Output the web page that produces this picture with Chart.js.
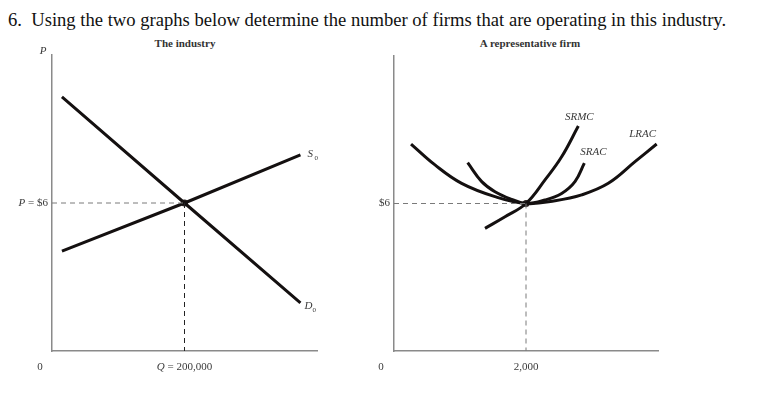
<!DOCTYPE html>
<html>
<head>
<meta charset="utf-8">
<script src="https://cdn.jsdelivr.net/npm/chart.js@4/dist/chart.umd.min.js"></script>
<style>
  html, body { margin: 0; padding: 0; background: #fff; }
  #wrap { position: relative; width: 773px; height: 393px; overflow: hidden; font-family: "Liberation Serif", serif; }
  #wrap canvas { position: absolute; left: 0; top: 0; }
  .t { position: absolute; white-space: nowrap; color: #111; }
  #title { left: 8px; top: 9px; font-size: 18.6px; }
  .sub { top: 37px; font-size: 11px; font-weight: bold; color: #333; transform: translateX(-50%); }
</style>
</head>
<body>
<div id="wrap">
  <div id="title" class="t">6.&nbsp;&nbsp;Using the two graphs below determine the number of firms that are operating in this industry.</div>
  <div class="t sub" style="left:185px">The industry</div>
  <div class="t sub" style="left:530px">A representative firm</div>
  <canvas id="c1" width="773" height="393"></canvas>
  <canvas id="c2" width="773" height="393"></canvas>
</div>
<script>
// ---------- Industry panel data ----------
const industryQ   = [15000, 200000, 375000];
const demandP     = [10.3, 6, 1.95];
const supplyP     = [4.05, 6, 7.95];
const industryEqQ = 200000;
const industryEqP = 6;
const industryTickLabels = { zero: "0", q: "Q = 200,000", p: "P = $6", axis: "P" };
const industryCurveLabels = ["S", "D"];

// ---------- Firm panel data ----------
const lracQ = [258, 621, 1025, 1530, 2000, 2439, 2843, 3247, 3652, 3980];
const lracC = [8.42, 7.57, 6.82, 6.28, 6.0, 6.11, 6.35, 6.82, 7.7, 8.42];
const sracQ = [1116, 1329, 1530, 1783, 2000, 2288, 2540, 2742, 2884];
const sracC = [7.66, 6.89, 6.48, 6.17, 6.0, 6.14, 6.41, 6.89, 7.64];
const srmcQ = [1379, 1682, 2000, 2288, 2540, 2793];
const srmcC = [4.99, 5.46, 6.0, 6.96, 7.9, 9.15];
const firmEqQ = 2000;
const firmEqP = 6;
const firmTickLabels = { zero: "0", q: "2,000", p: "$6" };
const firmCurveLabels = ["SRMC", "SRAC", "LRAC"];

const pts = (xs, ys) => xs.map((x, i) => ({ x, y: ys[i] }));

const LINE = "#141010";
const DASH = "#7a7a7a";
const AXIS = "#8a8a8a";
const TXT = "#3a3a3a";
const SERIF = "'Liberation Serif', 'Times New Roman', serif";

function curve(data, smooth) {
  return {
    data, showLine: true, borderColor: LINE, borderWidth: 3, pointRadius: 0,
    tension: smooth ? 0.4 : 0, fill: false, borderCapStyle: "butt"
  };
}
function dashed(data, color) {
  return { data, showLine: true, borderColor: color, borderWidth: 1, borderDash: [5, 4], pointRadius: 0, fill: false };
}
function dot(x, y) {
  return { data: [{ x, y }], showLine: false, pointRadius: 3.5, pointBackgroundColor: "#2a2222", pointBorderColor: "#2a2222", pointBorderWidth: 0 };
}

function scales(xmax, ymax) {
  const common = {
    type: "linear", min: 0,
    grid: { display: false, drawTicks: false },
    border: { display: true, color: AXIS, width: 1.5 },
    ticks: { display: false }
  };
  return {
    x: Object.assign({}, common, { max: xmax, position: "bottom" }),
    y: Object.assign({}, common, { max: ymax, position: "left" })
  };
}

function textPlugin(id, drawFn) {
  return { id, afterDraw(chart) { const ctx = chart.ctx; ctx.save(); drawFn(chart, ctx); ctx.restore(); } };
}

function label(ctx, s, x, y, font, align) {
  ctx.font = font; ctx.fillStyle = TXT; ctx.textAlign = align || "center"; ctx.textBaseline = "middle";
  ctx.fillText(s, x, y);
}
const F = "11px " + SERIF, FI = "italic 11px " + SERIF, FS = "7px " + SERIF;

// ---------- Industry chart ----------
new Chart(document.getElementById("c1"), {
  type: "scatter",
  data: {
    datasets: [
      dashed([{ x: 0, y: industryEqP }, { x: industryEqQ, y: industryEqP }], DASH),
      dashed([{ x: industryEqQ, y: industryEqP }, { x: industryEqQ, y: 0 }], "#222"),
      curve(pts(industryQ, demandP), false),
      curve(pts(industryQ, supplyP), false),
      dot(industryEqQ, industryEqP)
    ]
  },
  options: {
    responsive: false, animation: false, devicePixelRatio: 1,
    layout: { padding: { left: 52, top: 55, right: 456, bottom: 42 } },
    plugins: { legend: { display: false }, tooltip: { enabled: false }, title: { display: false } },
    scales: scales(400000, 12)
  },
  plugins: [textPlugin("txtIndustry", (chart, ctx) => {
    const xs = chart.scales.x, ys = chart.scales.y;
    const x0 = xs.getPixelForValue(0), y0 = ys.getPixelForValue(0);
    const yTop = ys.getPixelForValue(12);
    label(ctx, industryTickLabels.axis, x0 - 9, yTop - 4, FI);
    label(ctx, industryTickLabels.zero, x0 - 12, y0 + 16, F);
    const qx = xs.getPixelForValue(industryEqQ);
    ctx.font = F;
    const rest = " = 200,000";
    const wr = ctx.measureText(rest).width;
    ctx.font = FI;
    const wq = ctx.measureText("Q").width;
    const sx = qx - (wq + wr) / 2;
    label(ctx, "Q", sx, y0 + 16, FI, "left");
    label(ctx, rest, sx + wq, y0 + 16, F, "left");
    const py = ys.getPixelForValue(industryEqP);
    ctx.font = F;
    const rp = " = $6";
    const wrp = ctx.measureText(rp).width;
    label(ctx, rp, x0 - 4, py, F, "right");
    label(ctx, "P", x0 - 4 - wrp, py, FI, "right");
    const sEnd = { x: xs.getPixelForValue(industryQ[2]), y: ys.getPixelForValue(supplyP[2]) };
    const dEnd = { x: xs.getPixelForValue(industryQ[2]), y: ys.getPixelForValue(demandP[2]) };
    label(ctx, industryCurveLabels[0], sEnd.x + 7, sEnd.y - 1, FI, "left");
    label(ctx, "0", sEnd.x + 14, sEnd.y + 3, FS, "left");
    label(ctx, industryCurveLabels[1], dEnd.x + 4, dEnd.y + 3, FI, "left");
    label(ctx, "0", dEnd.x + 12, dEnd.y + 7, FS, "left");
  })]
});

// ---------- Firm chart ----------
new Chart(document.getElementById("c2"), {
  type: "scatter",
  data: {
    datasets: [
      dashed([{ x: 0, y: firmEqP }, { x: firmEqQ, y: firmEqP }], DASH),
      dashed([{ x: firmEqQ, y: firmEqP }, { x: firmEqQ, y: 0 }], DASH),
      curve(pts(lracQ, lracC), true),
      curve(pts(sracQ, sracC), true),
      curve(pts(srmcQ, srmcC), true),
      dot(firmEqQ, firmEqP)
    ]
  },
  options: {
    responsive: false, animation: false, devicePixelRatio: 1,
    layout: { padding: { left: 394, top: 56, right: 115, bottom: 42 } },
    plugins: { legend: { display: false }, tooltip: { enabled: false }, title: { display: false } },
    scales: scales(4000, 12)
  },
  plugins: [textPlugin("txtFirm", (chart, ctx) => {
    const xs = chart.scales.x, ys = chart.scales.y;
    const x0 = xs.getPixelForValue(0), y0 = ys.getPixelForValue(0);
    label(ctx, firmTickLabels.zero, x0 - 13, y0 + 16, F);
    label(ctx, firmTickLabels.q, xs.getPixelForValue(firmEqQ), y0 + 16, F);
    label(ctx, firmTickLabels.p, x0 - 4, ys.getPixelForValue(firmEqP), F, "right");
    label(ctx, firmCurveLabels[0], xs.getPixelForValue(srmcQ[srmcQ.length - 1]) + 1, ys.getPixelForValue(srmcC[srmcC.length - 1]) - 9, FI);
    label(ctx, firmCurveLabels[1], xs.getPixelForValue(sracQ[sracQ.length - 1]) + 9, ys.getPixelForValue(sracC[sracC.length - 1]) - 11, FI);
    label(ctx, firmCurveLabels[2], xs.getPixelForValue(lracQ[lracQ.length - 1]) - 14, ys.getPixelForValue(lracC[lracC.length - 1]) - 10, FI);
  })]
});
</script>
</body>
</html>
